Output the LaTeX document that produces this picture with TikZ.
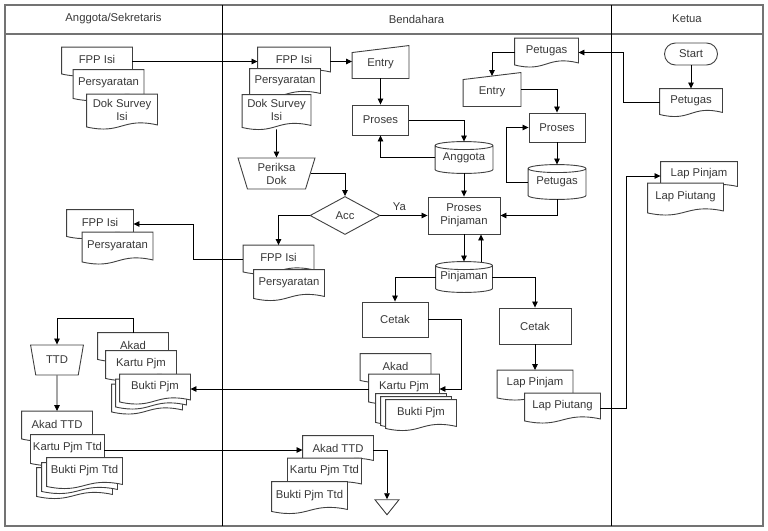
\documentclass[tikz,border=0pt]{standalone}
\usepackage{fontspec}
\setmainfont{Liberation Sans}
\usetikzlibrary{shapes.geometric,arrows.meta}

\makeatletter
% page with a wavy lower edge
\pgfdeclareshape{docpage}{
  \inheritsavedanchors[from=rectangle]
  \inheritanchorborder[from=rectangle]
  \inheritanchor[from=rectangle]{center}
  \inheritanchor[from=rectangle]{mid}
  \inheritanchor[from=rectangle]{base}
  \inheritanchor[from=rectangle]{north}
  \inheritanchor[from=rectangle]{south}
  \inheritanchor[from=rectangle]{east}
  \inheritanchor[from=rectangle]{west}
  \inheritanchor[from=rectangle]{north east}
  \inheritanchor[from=rectangle]{north west}
  \inheritanchor[from=rectangle]{south east}
  \inheritanchor[from=rectangle]{south west}
  \anchor{text}{\pgf@x=0pt \pgf@y=2pt}
  \backgroundpath{%
    \southwest \edef\dpxa{\the\pgf@x}\edef\dpya{\the\pgf@y}%
    \northeast \edef\dpxb{\the\pgf@x}\edef\dpyb{\the\pgf@y}%
    \pgfmathsetmacro\dpxm{0.5*(\dpxa+\dpxb)}%
    \pgfpathmoveto{\pgfpoint{\dpxa}{\dpyb}}%
    \pgfpathlineto{\pgfpoint{\dpxb}{\dpyb}}%
    \pgfpathlineto{\pgfpoint{\dpxb}{\dpya+4pt}}%
    \pgfpathcurveto{\pgfpoint{\dpxm}{\dpya+12pt}}{\pgfpoint{\dpxm}{\dpya-6pt}}{\pgfpoint{\dpxa}{\dpya+2pt}}%
    \pgfpathclose
  }
}
% manual input, slanted top
\pgfdeclareshape{manualinput}{
  \inheritsavedanchors[from=rectangle]
  \inheritanchorborder[from=rectangle]
  \inheritanchor[from=rectangle]{center}
  \inheritanchor[from=rectangle]{mid}
  \inheritanchor[from=rectangle]{base}
  \inheritanchor[from=rectangle]{south}
  \inheritanchor[from=rectangle]{east}
  \inheritanchor[from=rectangle]{west}
  \anchor{text}{\pgf@x=0pt \pgf@y=-2pt}
  \anchor{north}{\southwest \pgf@xa=\pgf@x \northeast
    \pgf@x=.5\pgf@x \advance\pgf@x by .5\pgf@xa \advance\pgf@y by -3.5pt}
  \backgroundpath{%
    \southwest \edef\dpxa{\the\pgf@x}\edef\dpya{\the\pgf@y}%
    \northeast \edef\dpxb{\the\pgf@x}\edef\dpyb{\the\pgf@y}%
    \pgfpathmoveto{\pgfpoint{\dpxa}{\dpyb-7pt}}%
    \pgfpathlineto{\pgfpoint{\dpxb}{\dpyb}}%
    \pgfpathlineto{\pgfpoint{\dpxb}{\dpya}}%
    \pgfpathlineto{\pgfpoint{\dpxa}{\dpya}}%
    \pgfpathclose
  }
}
% stored data drum
\pgfdeclareshape{diskstore}{
  \inheritsavedanchors[from=rectangle]
  \inheritanchorborder[from=rectangle]
  \inheritanchor[from=rectangle]{center}
  \inheritanchor[from=rectangle]{mid}
  \inheritanchor[from=rectangle]{base}
  \inheritanchor[from=rectangle]{north}
  \inheritanchor[from=rectangle]{south}
  \inheritanchor[from=rectangle]{east}
  \inheritanchor[from=rectangle]{west}
  \backgroundpath{%
    \southwest \edef\dpxa{\the\pgf@x}\edef\dpya{\the\pgf@y}%
    \northeast \edef\dpxb{\the\pgf@x}\edef\dpyb{\the\pgf@y}%
    \pgfmathsetmacro\dprx{0.5*(\dpxb-\dpxa)}%
    \pgfpathmoveto{\pgfpoint{\dpxa}{\dpyb-4pt}}%
    \pgfpatharc{180}{0}{\dprx pt and 4pt}%
    \pgfpathlineto{\pgfpoint{\dpxb}{\dpya+4pt}}%
    \pgfpatharc{0}{-180}{\dprx pt and 4pt}%
    \pgfpathclose
    \pgfpathmoveto{\pgfpoint{\dpxa}{\dpyb-4pt}}%
    \pgfpatharc{180}{360}{\dprx pt and 4pt}%
  }
}
\makeatother

\begin{document}
\begin{tikzpicture}[x=1pt, y=-1pt,
    every node/.style={font=\fontsize{11.3}{13}\selectfont, text=black!78},
    box/.style={draw=black!75, fill=white, line width=0.9pt, inner sep=2pt},
    doc/.style={box, shape=docpage, minimum width=70pt, minimum height=28pt},
    proc/.style={box, rectangle},
    entrybox/.style={box, shape=manualinput},
    manop/.style={box, trapezium, shape border rotate=180, trapezium left angle=75,
      trapezium right angle=75, trapezium stretches=true},
    disk/.style={box, shape=diskstore},
    term/.style={box, rectangle, rounded corners=11pt},
    decision/.style={box, diamond},
    arr/.style={-{Triangle[length=6pt,width=5.5pt]}, line width=0.8pt},
    frame/.style={draw=black!55, line width=1.5pt}]
  \useasboundingbox (0,0) rectangle (768,530);

  % lanes
  \draw[frame] (5,5) rectangle (763,526);
  \draw[frame] (5,34) -- (763,34);
  \draw[line width=0.9pt] (222,5) -- (222,526);
  \draw[line width=0.9pt] (611,5) -- (611,526);
  \node (hA) at (113.5,19) {Anggota/Sekretaris};
  \node (hB) at (416.5,19) {Bendahara};
  \node (hC) at (687,19) {Ketua};

  % Anggota/Sekretaris
  \node[doc] (fppA) at (97,61.5) {FPP Isi};
  \node[doc, minimum height=30pt] (syaratA) at (108.5,85) {Persyaratan};
  \node[doc, minimum height=34pt, align=center] (surveyA) at (122,111.5) {Dok Survey\\Isi};
  \node[doc, minimum width=66pt] (fppA2) at (100,224) {FPP Isi};
  \node[doc, minimum height=31pt] (syaratA2) at (117.5,248) {Persyaratan};
  \node[doc] (akadA) at (133,347) {Akad};
  \node[doc, minimum height=29pt] (kartuA) at (141,365.5) {Kartu Pjm};
  \node[doc, minimum height=29pt] (buktiA3) at (147,399) {};
  \node[doc, minimum height=29pt] (buktiA2) at (151,394) {};
  \node[doc, minimum height=29pt] (buktiA) at (155,389) {Bukti Pjm};
  \node[manop, minimum width=53pt, minimum height=30pt] (ttd) at (57,360) {TTD};
  \node[doc, minimum height=29pt] (akadTtdA) at (57,426) {Akad TTD};
  \node[doc, minimum width=73pt, minimum height=30pt] (kartuTtdA) at (67.5,450) {Kartu Pjm Ttd};
  \node[doc, minimum width=75pt, minimum height=30pt] (buktiTtdA3) at (74.5,483) {};
  \node[doc, minimum width=75pt, minimum height=30pt] (buktiTtdA2) at (79.5,478) {};
  \node[doc, minimum width=75pt, minimum height=30pt] (buktiTtdA) at (84.5,473) {Bukti Pjm Ttd};

  % Bendahara
  \node[doc, minimum width=72pt] (fppB) at (294,61.5) {FPP Isi};
  \node[doc] (syaratB) at (285,83) {Persyaratan};
  \node[doc, minimum width=68pt, minimum height=34pt, align=center] (surveyB) at (276.5,112) {Dok Survey\\Isi};
  \node[entrybox, minimum width=56pt, minimum height=32pt] (entryB) at (380.5,62) {Entry};
  \node[proc, minimum width=56pt, minimum height=30pt] (prosesB) at (380.5,120) {Proses};
  \node[disk, minimum width=57pt, minimum height=31pt] (anggota) at (464,157.5) {Anggota};
  \node[manop, minimum width=77pt, minimum height=31pt, align=center] (periksa) at (276.5,173.5) {Periksa\\Dok};
  \node[decision, minimum width=70pt, minimum height=38pt, inner sep=0pt] (acc) at (345,215.5) {Acc};
  \node[proc, minimum width=72pt, minimum height=37pt, align=center] (pinProses) at (464,215.5) {Proses\\Pinjaman};
  \node[doc] (fppB2) at (278.5,259.5) {FPP Isi};
  \node[doc, minimum height=30pt] (syaratB2) at (289,285) {Persyaratan};
  \node[disk, minimum width=56pt, minimum height=30pt] (pinjaman) at (464,277) {Pinjaman};
  \node[proc, minimum width=66pt, minimum height=35pt] (cetakB) at (395,319.5) {Cetak};
  \node[proc, minimum width=72pt, minimum height=36pt] (cetakC) at (535,326) {Cetak};
  \node[doc, minimum width=75pt, minimum height=29pt] (lapPinjamB) at (535,385) {Lap Pinjam};
  \node[doc, minimum width=75pt, minimum height=29pt] (lapPiutangB) at (562.5,408) {Lap Piutang};
  \node[doc] (akadB) at (395.5,368) {Akad};
  \node[doc, minimum height=29pt] (kartuB) at (404,389) {Kartu Pjm};
  \node[doc, minimum height=30pt] (buktiB3) at (411,409) {};
  \node[doc, minimum height=30pt] (buktiB2) at (416,412) {};
  \node[doc, minimum height=30pt] (buktiB) at (421,415) {Bukti Pjm};
  \node[doc] (akadTtdB) at (338,450) {Akad TTD};
  \node[doc, minimum width=73pt, minimum height=29pt] (kartuTtdB) at (324.5,473) {Kartu Pjm Ttd};
  \node[doc, minimum width=75pt, minimum height=31pt] (buktiTtdB) at (309.5,497.5) {Bukti Pjm Ttd};
  \node[box, isosceles triangle, shape border rotate=-90, isosceles triangle stretches,
    minimum width=24pt, minimum height=15pt, inner sep=0pt] (store) at (387,505.5) {};
  \node[doc, minimum width=63pt] (petugasB) at (546.5,52.5) {Petugas};
  \node[entrybox, minimum width=57pt, minimum height=33pt] (entryC) at (492,89.5) {Entry};
  \node[proc, minimum width=56pt, minimum height=29pt] (prosesC) at (557,127.5) {Proses};
  \node[disk, minimum width=57pt, minimum height=34pt] (petugasDb) at (557,182) {Petugas};

  % Ketua
  \node[term, minimum width=53pt, minimum height=22pt] (start) at (691,54) {Start};
  \node[doc, minimum width=62pt, minimum height=27pt] (petugasD) at (691,102.5) {Petugas};
  \node[doc, minimum width=76pt] (lapPinjamD) at (699,176) {Lap Pinjam};
  \node[doc, minimum width=75pt, minimum height=31pt] (lapPiutangD) at (685.5,199) {Lap Piutang};

  % flows
  \draw[arr] (fppA.east) -- (fppB.west);
  \draw[arr] (fppB.east) -- (fppB.east -| entryB.west);
  \draw[arr] (entryB.south) -- (prosesB.north);
  \draw[arr] (prosesB.east) -| (anggota.north);
  \draw[arr] (anggota.west) -| (prosesB.south);
  \draw[arr] (anggota.south) -- (pinProses.north);
  \draw[arr] (surveyB.south) -- (periksa.north);
  \draw[arr] (periksa.east) -| (acc.north);
  \draw[arr] (acc.east) -- node[above, pos=0.4, yshift=1pt] (ya) {Ya} (pinProses.west);
  \draw[arr] (acc.west) -| (fppB2.north);
  \draw[arr] (fppB2.west) -- ++(-50,0) |- (fppA2.east);
  \draw[arr] (pinProses.south) -- (pinjaman.north);
  \draw[arr] ([xshift=17pt]pinjaman.north) -- ([xshift=17pt]pinProses.south);
  \draw[arr] (pinjaman.west) -| (cetakB.north);
  \draw[arr] (pinjaman.east) -| (cetakC.north);
  \draw[arr] (cetakC.south) -- (lapPinjamB.north);
  \draw[arr] (lapPiutangB.east) -- ++(26,0) |- (lapPinjamD.west);
  \draw[arr] (cetakB.east) -- ++(33,0) |- (kartuB.east);
  \draw[arr] (kartuB.west) -- (buktiA.east);
  \draw[arr] (akadA.north) -- ++(0,-14) -| (ttd.north);
  \draw[arr] (ttd.south) -- (akadTtdA.north);
  \draw[arr] (kartuTtdA.east) -- (akadTtdB.west);
  \draw[arr] (akadTtdB.east) -| (store.north);
  \draw[arr] (start.south) -- (petugasD.north);
  \draw[arr] (petugasD.west) -- ++(-36,0) |- (petugasB.east);
  \draw[arr] (petugasB.west) -| (entryC.north);
  \draw[arr] (entryC.east) -| (prosesC.north);
  \draw[arr] (prosesC.south) -- (petugasDb.north);
  \draw[arr] (petugasDb.west) -- ++(-22,0) |- (prosesC.west);
  \draw[arr] (petugasDb.south) |- (pinProses.east);
\end{tikzpicture}
\end{document}
